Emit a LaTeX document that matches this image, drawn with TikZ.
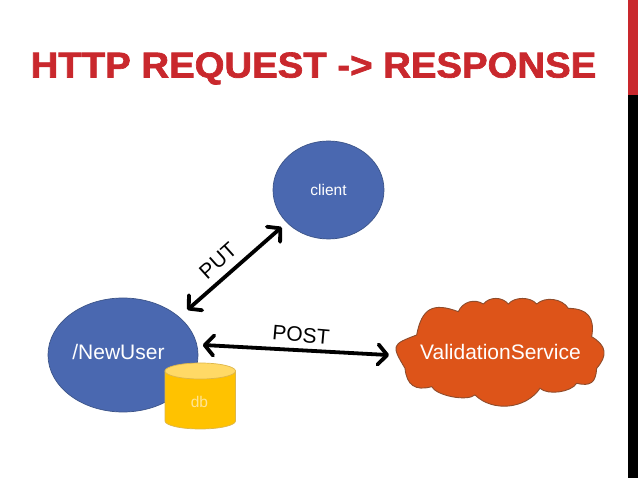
\documentclass[tikz,border=0pt]{standalone}
\usepackage{fontspec}
\setmainfont{Liberation Sans}
\newfontfamily\titlef[FakeBold=1.8]{Liberation Sans Bold}
\usetikzlibrary{arrows.meta,shapes.geometric}
\definecolor{ttl}{HTML}{C9282D}
\definecolor{blu}{HTML}{4A68B0}
\definecolor{bluedge}{HTML}{3C5488}
\definecolor{org}{HTML}{DD5419}
\definecolor{orgedge}{HTML}{8E4C2C}
\definecolor{gold}{HTML}{FFC200}
\definecolor{goldtop}{HTML}{FFD966}
\definecolor{goldedge}{HTML}{DDB64A}
\tikzset{
  x=1pt,y=-1pt,
  bubble/.style={ellipse,fill=blu,draw=bluedge,line width=.7pt,inner sep=0pt,outer sep=0pt,text=white},
  biglabel/.style={font=\fontsize{21}{24}\selectfont},
  smalllabel/.style={font=\fontsize{15.5}{18}\selectfont},
  link/.style={line width=3.8pt,black,{Straight Barb[length=9pt,width=20pt,round]}-{Straight Barb[length=9pt,width=20pt,round]}},
  lobe/.style={bend left=50,looseness=#1},
}
\begin{document}
\begin{tikzpicture}
\path[use as bounding box,fill=white] (0,0) rectangle (638,478);
\fill[ttl] (628,0) rectangle (638,95);
\fill[black] (628,95) rectangle (638,478);
\node[text=ttl,inner sep=0pt,xscale=1.065,font=\titlef\fontsize{36}{40}\selectfont] (title) at (313.5,68.5) {HTTP REQUEST -> RESPONSE};
\node[bubble,minimum width=150pt,minimum height=114pt] (nu) at (123,355) {};
\node[text=white,biglabel,inner sep=0pt] (nut) at (118.5,351.5) {/NewUser};
\node[bubble,minimum width=111pt,minimum height=98pt,smalllabel] (cl) at (328.5,190) {client};
% database
\path[fill=gold,draw=goldedge,line width=.7pt] (165,371) -- (165,421) arc[x radius=35.25,y radius=8,start angle=180,end angle=0] -- (235.5,371) -- cycle;
\path[fill=goldtop,draw=goldedge,line width=.7pt] (200.25,371) ellipse[x radius=35.25,y radius=8];
\node[text=goldtop!70!white,smalllabel,inner sep=0pt] (db) at (199.5,401.5) {db};
% cloud
\begin{scope}[shift={(380,280)},x=.33333pt,y=-.33333pt]
\path[fill=org,draw=orgedge,line width=.9pt] (75,265)
 to[lobe=1.95] (110,165)
 to[lobe=1.46] (235,95)
 to[lobe=1.04] (310,72)
 to[lobe=1.0] (385,72)
 to[lobe=.88] (470,72)
 to[lobe=.93] (565,85)
 to[lobe=1.34] (635,170)
 to[lobe=1.38] (650,265)
 to[lobe=1.46] (590,310)
 to[lobe=.73] (480,325)
 to[lobe=.98] (285,345)
 to[lobe=.61] (155,320)
 to[lobe=1.34] (75,265) -- cycle;
\end{scope}
\node[text=white,biglabel,inner sep=0pt,minimum width=207pt,minimum height=107pt,outer sep=0pt] (vs) at (500.5,352) {ValidationService};
\coordinate (vsport) at (397,355.5);
\draw[link,shorten <=11pt,shorten >=7pt] (nu.34) -- (cl.218);
\draw[link,shorten <=6pt,shorten >=8pt] (nu.8) -- (vsport);
\node[biglabel,inner sep=0pt,rotate=42] (put) at (218,261) {PUT};
\node[biglabel,inner sep=0pt,rotate=-5] (post) at (301,335) {POST};
\end{tikzpicture}
\end{document}
